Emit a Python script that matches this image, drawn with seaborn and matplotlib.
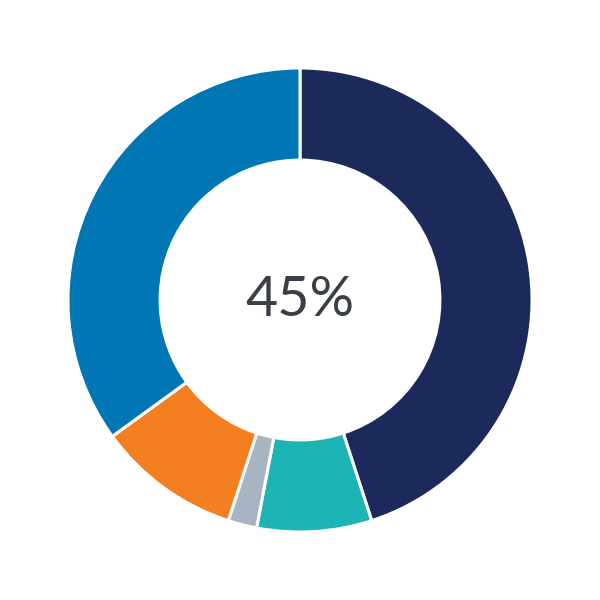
import matplotlib
matplotlib.use("Agg")
import matplotlib.pyplot as plt
import seaborn as sns

# slices, clockwise from the top
labels = ["Navy", "Teal", "Gray", "Orange", "Blue"]
shares = [45, 8, 2, 10, 35]
colors = ["#1b2a5a", "#1cb4b5", "#a9b4c2", "#f37f20", "#0076b5"]
center_text = "45%"

sns.set_theme(style="white")
plt.rcParams['font.family'] = ['Lato', 'DejaVu Sans']

fig = plt.figure(figsize=(6, 6), dpi=100)
ax = fig.add_axes([0, 0, 1, 1])

ax.pie(shares, colors=colors, startangle=90, counterclock=False,
       wedgeprops=dict(width=0.397, edgecolor="white", linewidth=2.2))

# percentage in the hole
ax.text(0, 0, center_text, ha="center", va="center", fontsize=40,
        color="#3a3f47")

ax.set_xlim(-1.293, 1.293)
ax.set_ylim(-1.293, 1.293)
ax.set_aspect("equal")
ax.axis("off")

fig.savefig("out.png", dpi=100, facecolor="white")
